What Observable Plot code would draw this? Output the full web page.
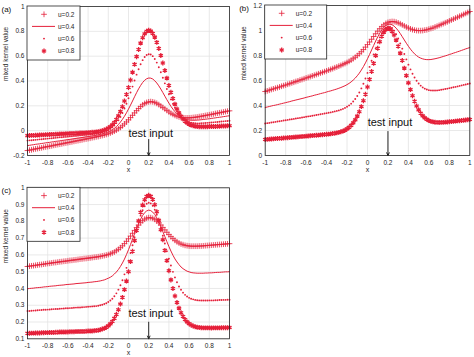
<!DOCTYPE html>
<html>
<head>
<meta charset="utf-8">
<script src="https://cdn.jsdelivr.net/npm/d3@7"></script>
<script src="https://cdn.jsdelivr.net/npm/@observablehq/plot@0.6"></script>
<style>
  html, body { margin: 0; padding: 0; background: #fff; }
  #fig { position: relative; width: 474px; height: 357px; background: #fff; overflow: hidden; }
  #fig > svg { position: absolute; }
</style>
</head>
<body>
<div id="fig"></div>
<script>
// ---------- data ----------
const xs = [-1,-0.98,-0.96,-0.94,-0.92,-0.9,-0.88,-0.86,-0.84,-0.82,-0.8,-0.78,-0.76,-0.74,-0.72,-0.7,-0.68,-0.66,-0.64,-0.62,-0.6,-0.58,-0.56,-0.54,-0.52,-0.5,-0.48,-0.46,-0.44,-0.42,-0.4,-0.38,-0.36,-0.34,-0.32,-0.3,-0.28,-0.26,-0.24,-0.22,-0.2,-0.18,-0.16,-0.14,-0.12,-0.1,-0.08,-0.06,-0.04,-0.02,0,0.02,0.04,0.06,0.08,0.1,0.12,0.14,0.16,0.18,0.2,0.22,0.24,0.26,0.28,0.3,0.32,0.34,0.36,0.38,0.4,0.42,0.44,0.46,0.48,0.5,0.52,0.54,0.56,0.58,0.6,0.62,0.64,0.66,0.68,0.7,0.72,0.74,0.76,0.78,0.8,0.82,0.84,0.86,0.88,0.9,0.92,0.94,0.96,0.98,1];

// panel (a)
const a02 = [-0.160,-0.157,-0.154,-0.150,-0.147,-0.144,-0.141,-0.138,-0.134,-0.131,-0.128,-0.125,-0.122,-0.118,-0.115,-0.112,-0.109,-0.106,-0.102,-0.099,-0.096,-0.093,-0.090,-0.086,-0.083,-0.080,-0.077,-0.074,-0.070,-0.067,
 -0.064,-0.061,-0.057,-0.054,-0.050,-0.047,-0.043,-0.039,-0.035,-0.030,-0.025,-0.019,-0.012,-0.004,0.004,0.015,0.026,0.039,0.054,0.070,
 0.087,
 0.105,0.124,0.143,0.161,0.178,0.194,0.208,0.219,0.227,0.232,0.234,0.232,0.227,0.220,0.210,0.199,0.187,0.175,0.163,0.151,0.140,0.131,0.123,0.116,0.111,0.107,0.104,0.103,0.103,0.103,0.104,0.106,0.108,0.110,0.113,0.116,0.119,0.122,0.125,0.128,0.131,0.134,0.138,0.141,0.144,0.147,0.150,0.154,0.157,0.160];
const a04 = [-0.120,-0.118,-0.115,-0.113,-0.110,-0.108,-0.106,-0.103,-0.101,-0.098,-0.096,-0.094,-0.091,-0.089,-0.086,-0.084,-0.082,-0.079,-0.077,-0.074,-0.072,-0.070,-0.067,-0.065,-0.062,-0.060,-0.058,-0.055,-0.053,-0.050,
 -0.048,-0.045,-0.043,-0.040,-0.037,-0.034,-0.030,-0.026,-0.022,-0.016,-0.010,-0.002,0.008,0.019,0.033,0.049,0.069,0.091,0.116,0.144,
 0.174,
 0.206,0.239,0.273,0.306,0.337,0.364,0.388,0.406,0.418,0.424,0.423,0.416,0.402,0.384,0.361,0.335,0.307,0.278,0.249,0.222,0.196,0.173,0.153,0.136,0.121,0.110,0.101,0.094,0.089,0.086,0.085,0.084,0.084,0.085,0.086,0.088,0.090,0.092,0.094,0.096,0.098,0.101,0.103,0.106,0.108,0.110,0.113,0.115,0.118,0.120];
const a06 = [-0.080,-0.078,-0.077,-0.075,-0.074,-0.072,-0.070,-0.069,-0.067,-0.066,-0.064,-0.062,-0.061,-0.059,-0.058,-0.056,-0.054,-0.053,-0.051,-0.050,-0.048,-0.046,-0.045,-0.043,-0.042,-0.040,-0.038,-0.037,-0.035,-0.034,
 -0.032,-0.030,-0.028,-0.026,-0.023,-0.021,-0.017,-0.013,-0.009,-0.002,0.005,0.015,0.028,0.043,0.061,0.084,0.111,0.142,0.178,0.217,
 0.261,
 0.307,0.355,0.404,0.451,0.495,0.535,0.568,0.593,0.609,0.616,0.613,0.600,0.577,0.548,0.511,0.470,0.426,0.381,0.336,0.293,0.252,0.216,0.184,0.156,0.132,0.113,0.097,0.085,0.076,0.069,0.065,0.062,0.060,0.059,0.059,0.060,0.061,0.062,0.063,0.064,0.066,0.067,0.069,0.070,0.072,0.074,0.075,0.077,0.078,0.080];
const a08 = [-0.040,-0.039,-0.038,-0.038,-0.037,-0.036,-0.035,-0.034,-0.034,-0.033,-0.032,-0.031,-0.030,-0.030,-0.029,-0.028,-0.027,-0.026,-0.026,-0.025,-0.024,-0.023,-0.022,-0.022,-0.021,-0.020,-0.019,-0.018,-0.018,-0.017,
 -0.016,-0.014,-0.013,-0.012,-0.010,-0.008,-0.005,-0.001,0.005,0.011,0.021,0.032,0.047,0.066,0.090,0.119,0.153,0.193,0.239,0.291,
 0.348,
 0.408,0.471,0.534,0.596,0.654,0.705,0.748,0.780,0.801,0.808,0.802,0.783,0.753,0.711,0.662,0.605,0.545,0.484,0.423,0.364,0.309,0.259,0.214,0.175,0.143,0.116,0.094,0.076,0.063,0.053,0.045,0.040,0.036,0.034,0.032,0.032,0.031,0.032,0.032,0.033,0.033,0.034,0.034,0.035,0.036,0.037,0.038,0.038,0.039,0.040];

// panel (b)
const b02 = [0.512,0.517,0.522,0.528,0.533,0.538,0.543,0.548,0.554,0.559,0.564,0.570,0.575,0.581,0.586,0.592,0.597,0.603,0.608,0.614,0.620,0.625,0.631,0.637,0.642,0.648,0.654,0.660,0.665,0.671,
 0.677,0.683,0.689,0.695,0.702,0.708,0.715,0.721,0.729,0.736,0.744,0.753,0.763,0.774,0.786,0.799,0.814,0.830,0.847,0.867,
 0.887,
 0.908,0.930,0.952,0.974,0.995,1.014,1.031,1.045,1.057,1.065,1.070,1.072,1.071,1.067,1.061,1.054,1.045,1.037,1.028,1.020,1.013,1.007,1.003,1.000,0.999,0.999,1.000,1.003,1.006,1.011,1.016,1.021,1.028,1.034,1.041,1.048,1.055,1.062,1.069,1.077,1.084,1.091,1.099,1.106,1.114,1.121,1.129,1.137,1.144,1.152];
const b04 = [0.384,0.388,0.392,0.396,0.400,0.403,0.407,0.411,0.415,0.419,0.423,0.427,0.431,0.436,0.440,0.444,0.448,0.452,0.456,0.460,0.465,0.469,0.473,0.477,0.482,0.486,0.490,0.495,0.499,0.503,
 0.508,0.513,0.517,0.522,0.527,0.532,0.538,0.544,0.551,0.558,0.567,0.577,0.589,0.603,0.619,0.638,0.659,0.684,0.711,0.741,
 0.774,
 0.808,0.844,0.880,0.916,0.949,0.979,1.005,1.026,1.041,1.049,1.051,1.046,1.035,1.019,0.999,0.976,0.950,0.924,0.898,0.874,0.851,0.831,0.813,0.799,0.787,0.779,0.773,0.769,0.767,0.767,0.768,0.771,0.774,0.778,0.782,0.787,0.792,0.797,0.802,0.808,0.813,0.819,0.824,0.830,0.835,0.841,0.847,0.853,0.858,0.864];
const b06 = [0.256,0.259,0.261,0.264,0.266,0.269,0.272,0.274,0.277,0.280,0.282,0.285,0.288,0.290,0.293,0.296,0.299,0.301,0.304,0.307,0.310,0.313,0.315,0.318,0.321,0.324,0.327,0.330,0.333,0.336,
 0.339,0.342,0.345,0.349,0.353,0.357,0.361,0.367,0.373,0.381,0.390,0.401,0.415,0.432,0.452,0.476,0.504,0.537,0.574,0.616,
 0.661,
 0.709,0.758,0.809,0.857,0.903,0.945,0.979,1.006,1.024,1.033,1.031,1.020,0.999,0.971,0.937,0.897,0.855,0.812,0.769,0.727,0.689,0.654,0.624,0.598,0.576,0.559,0.545,0.535,0.528,0.523,0.521,0.520,0.520,0.521,0.523,0.526,0.529,0.532,0.535,0.539,0.542,0.546,0.549,0.553,0.557,0.561,0.565,0.568,0.572,0.576];
const b08 = [0.128,0.129,0.131,0.132,0.133,0.135,0.136,0.137,0.138,0.140,0.141,0.142,0.144,0.145,0.147,0.148,0.149,0.151,0.152,0.153,0.155,0.156,0.158,0.159,0.161,0.162,0.163,0.165,0.166,0.168,
 0.170,0.171,0.173,0.176,0.178,0.181,0.185,0.190,0.195,0.203,0.213,0.225,0.241,0.261,0.285,0.315,0.350,0.391,0.438,0.490,
 0.548,
 0.609,0.672,0.737,0.799,0.858,0.910,0.954,0.987,1.008,1.016,1.011,0.993,0.964,0.923,0.874,0.819,0.760,0.699,0.639,0.581,0.527,0.478,0.434,0.396,0.365,0.338,0.317,0.301,0.289,0.279,0.273,0.269,0.266,0.265,0.264,0.265,0.265,0.267,0.268,0.270,0.271,0.273,0.275,0.277,0.278,0.280,0.282,0.284,0.286,0.288];

// panel (c)
const c02 = [0.531,0.533,0.535,0.536,0.538,0.540,0.542,0.543,0.545,0.547,0.549,0.550,0.552,0.554,0.555,0.557,0.559,0.560,0.562,0.563,0.565,0.567,0.568,0.570,0.571,0.573,0.575,0.576,0.578,0.579,
 0.581,0.582,0.584,0.586,0.587,0.589,0.591,0.594,0.596,0.599,0.602,0.607,0.612,0.617,0.625,0.633,0.643,0.654,0.667,0.681,
 0.696,
 0.712,0.729,0.746,0.763,0.778,0.792,0.804,0.813,0.819,0.822,0.822,0.818,0.812,0.802,0.791,0.778,0.764,0.749,0.735,0.721,0.709,0.697,0.687,0.678,0.671,0.665,0.661,0.657,0.655,0.653,0.652,0.652,0.652,0.652,0.653,0.653,0.654,0.655,0.656,0.657,0.658,0.659,0.660,0.661,0.662,0.663,0.664,0.665,0.666,0.667];
const c04 = [0.398,0.400,0.401,0.402,0.404,0.405,0.406,0.407,0.409,0.410,0.411,0.413,0.414,0.415,0.416,0.418,0.419,0.420,0.421,0.423,0.424,0.425,0.426,0.427,0.429,0.430,0.431,0.432,0.433,0.434,
 0.436,0.437,0.438,0.440,0.441,0.443,0.445,0.448,0.451,0.456,0.461,0.467,0.475,0.486,0.498,0.513,0.531,0.552,0.575,0.602,
 0.631,
 0.662,0.694,0.726,0.757,0.787,0.813,0.835,0.852,0.862,0.867,0.864,0.855,0.841,0.821,0.796,0.769,0.739,0.709,0.679,0.650,0.623,0.598,0.576,0.558,0.542,0.528,0.518,0.510,0.503,0.499,0.495,0.493,0.492,0.491,0.491,0.491,0.491,0.492,0.492,0.493,0.493,0.494,0.495,0.496,0.496,0.497,0.498,0.499,0.499,0.500];
const c06 = [0.266,0.266,0.267,0.268,0.269,0.270,0.271,0.272,0.273,0.273,0.274,0.275,0.276,0.277,0.278,0.278,0.279,0.280,0.281,0.282,0.282,0.283,0.284,0.285,0.286,0.287,0.287,0.288,0.289,0.290,
 0.291,0.292,0.293,0.294,0.295,0.297,0.300,0.303,0.307,0.312,0.319,0.328,0.339,0.354,0.371,0.393,0.419,0.449,0.484,0.523,
 0.565,
 0.611,0.658,0.705,0.752,0.795,0.834,0.866,0.890,0.905,0.911,0.907,0.893,0.870,0.839,0.801,0.759,0.714,0.668,0.622,0.578,0.537,0.499,0.466,0.437,0.412,0.392,0.375,0.362,0.352,0.344,0.339,0.335,0.332,0.330,0.329,0.328,0.328,0.328,0.328,0.329,0.329,0.329,0.330,0.330,0.331,0.331,0.332,0.332,0.333,0.333];
const c08 = [0.133,0.133,0.134,0.134,0.135,0.135,0.135,0.136,0.136,0.137,0.137,0.138,0.138,0.138,0.139,0.139,0.140,0.140,0.140,0.141,0.141,0.142,0.142,0.142,0.143,0.143,0.144,0.144,0.144,0.145,
 0.146,0.146,0.147,0.148,0.150,0.151,0.154,0.158,0.162,0.169,0.177,0.189,0.203,0.222,0.245,0.273,0.307,0.347,0.393,0.444,
 0.500,
 0.560,0.622,0.685,0.746,0.803,0.854,0.897,0.929,0.949,0.956,0.949,0.930,0.899,0.857,0.807,0.750,0.690,0.627,0.566,0.506,0.451,0.400,0.355,0.316,0.283,0.255,0.233,0.215,0.201,0.190,0.182,0.176,0.172,0.169,0.167,0.166,0.165,0.165,0.165,0.165,0.164,0.165,0.165,0.165,0.165,0.166,0.166,0.166,0.166,0.167];

// ticks and labels
const xTicks = [-1,-0.8,-0.6,-0.4,-0.2,0,0.2,0.4,0.6,0.8,1];
const yTicksA = [-0.2,0,0.2,0.4,0.6,0.8,1];
const yTicksB = [0,0.2,0.4,0.6,0.8,1,1.2];
const yTicksC = [0.1,0.2,0.3,0.4,0.5,0.6,0.7,0.8,0.9,1];
const seriesLabels = ["u=0.2","u=0.4","u=0.6","u=0.8"];
const panelTags = ["(a)","(b)","(c)"];
const xLabel = "x";
const yLabel = "mixed kernel value";
const annotText = "test input";
// annotation: x of test input, text y, arrow start y, arrow end y (data units)
const annotA = [{x:0.2, ty:-0.023, y1:-0.071, y2:-0.2}];
const annotB = [{x:0.2, ty:0.264, y1:0.192, y2:0.0}];
const annotC = [{x:0.2, ty:0.253, y1:0.199, y2:0.1}];

// ---------- drawing ----------
const RED = "#e5203a";
const INK = "#262626";
const FONT = "'Liberation Sans', Arial, Helvetica, sans-serif";
const fmt = d => String(d);
const rows = ys => xs.map((x, i) => ({x, y: ys[i]}));
const R_PLUS = 2.0, R_DOT = 0.95, R_AST = 2.3;

function panel(cfg) {
  const {series, yDomain, yTicks, width, height, m, tag, annot, legendW, left, top} = cfg;
  const svg = Plot.plot({
    width, height,
    marginLeft: m[0], marginRight: m[1], marginTop: m[2], marginBottom: m[3],
    style: {fontFamily: FONT, fontSize: "6.5px", color: INK, background: "transparent", overflow: "visible"},
    x: {domain: [-1, 1], ticks: xTicks, tickFormat: fmt, tickSize: 0, tickPadding: 5, label: null},
    y: {domain: yDomain, ticks: yTicks, tickFormat: fmt, tickSize: 0, tickPadding: 3, label: null},
    marks: [
      Plot.ruleX(xTicks, {stroke: "#e3e3e3", strokeWidth: 0.8}),
      Plot.ruleY(yTicks, {stroke: "#e3e3e3", strokeWidth: 0.8}),
      Plot.dot(rows(series[0]), {x: "x", y: "y", symbol: "plus", r: R_PLUS, stroke: RED, strokeWidth: 0.8}),
      Plot.line(rows(series[1]), {x: "x", y: "y", stroke: RED, strokeWidth: 1}),
      Plot.dot(rows(series[2]), {x: "x", y: "y", r: R_DOT, fill: RED, stroke: "none"}),
      Plot.dot(rows(series[3]), {x: "x", y: "y", symbol: "asterisk", r: R_AST, stroke: RED, strokeWidth: 1.3}),
      Plot.text(annot, {x: "x", y: "ty", text: () => annotText, fontSize: 11, fill: "#111", dx: 2}),
      Plot.arrow(annot, {x1: "x", x2: "x", y1: "y1", y2: "y2", stroke: "#111", strokeWidth: 0.9, headLength: 5, headAngle: 50}),
      Plot.text([xLabel], {frameAnchor: "bottom", dy: 16, text: d => d, fontSize: 7, fill: INK}),
      Plot.text([yLabel], {frameAnchor: "left", dx: -21.5, rotate: -90, text: d => d, fontSize: 6.5, fill: INK}),
      Plot.text([tag], {frameAnchor: "top-left", dx: -26, dy: 0, textAnchor: "start", text: d => d, fontSize: 8, fill: "#111"}),
      Plot.frame({stroke: INK, strokeWidth: 0.8})
    ]
  });
  svg.style.left = left + "px";
  svg.style.top = top + "px";

  // legend box
  const g = d3.select(svg).append("g").attr("transform", `translate(${m[0]},${m[2]})`);
  g.append("rect").attr("x", 0).attr("y", 0).attr("width", legendW).attr("height", 54)
    .attr("fill", "#fff").attr("stroke", INK).attr("stroke-width", 0.8);
  const rowsY = [8.3, 20.4, 32.6, 45];
  const sx = 17;
  seriesLabels.forEach((lab, i) => {
    const yy = rowsY[i];
    if (i === 0) {
      g.append("path").attr("d", d3.symbol(d3.symbolPlus, Math.PI * R_PLUS * R_PLUS)())
        .attr("transform", `translate(${sx},${yy})`).attr("fill", "none").attr("stroke", RED).attr("stroke-width", 0.8);
    } else if (i === 1) {
      g.append("line").attr("x1", 5).attr("x2", 28).attr("y1", yy).attr("y2", yy)
        .attr("stroke", RED).attr("stroke-width", 1);
    } else if (i === 2) {
      g.append("circle").attr("cx", sx).attr("cy", yy).attr("r", R_DOT).attr("fill", RED);
    } else {
      g.append("path").attr("d", d3.symbol(d3.symbolAsterisk, Math.PI * R_AST * R_AST)())
        .attr("transform", `translate(${sx},${yy})`).attr("fill", "none").attr("stroke", RED).attr("stroke-width", 1.3);
    }
    g.append("text").attr("x", 31).attr("y", yy).attr("dy", "0.35em").attr("text-anchor", "start")
      .attr("font-size", 6.5).attr("font-family", FONT).attr("fill", INK).text(lab);
  });
  document.getElementById("fig").appendChild(svg);
}

panel({series: [a02, a04, a06, a08], yDomain: [-0.2, 1], yTicks: yTicksA,
  width: 237, height: 175, m: [27, 8, 6, 20], tag: panelTags[0], annot: annotA, legendW: 53, left: 0, top: 0});
panel({series: [b02, b04, b06, b08], yDomain: [0, 1.2], yTicks: yTicksB,
  width: 237, height: 175, m: [27.7, 4.7, 5, 20], tag: panelTags[1], annot: annotB, legendW: 62, left: 237, top: 0});
panel({series: [c02, c04, c06, c08], yDomain: [0.1, 1], yTicks: yTicksC,
  width: 237, height: 182, m: [27, 8, 12.3, 18.7], tag: panelTags[2], annot: annotC, legendW: 53, left: 0, top: 175});
</script>
</body>
</html>
